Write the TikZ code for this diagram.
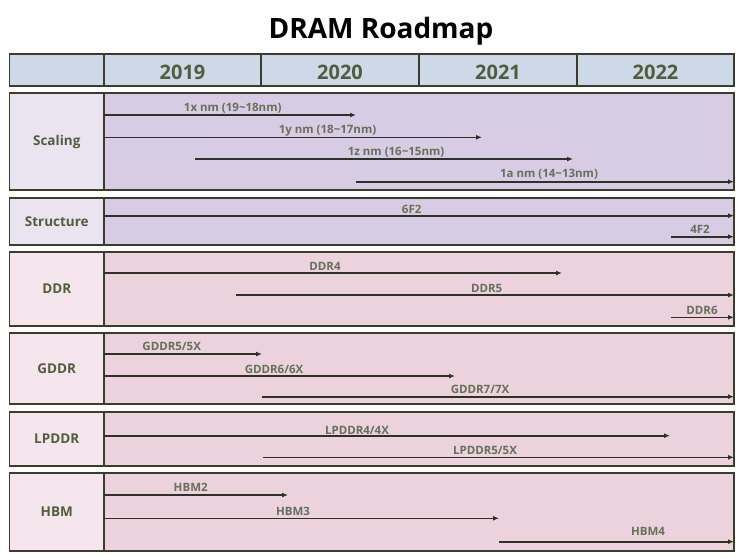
\documentclass[tikz,border=0pt]{standalone}
\usepackage{fontspec}
\setmainfont{Open Sans}
\usetikzlibrary{arrows.meta}
\definecolor{bordc}{HTML}{3A3D2E}
\definecolor{hdrfill}{HTML}{CDD9E6}
\definecolor{lavlab}{HTML}{EAE4F1}
\definecolor{lavbody}{HTML}{D8CCE4}
\definecolor{pinklab}{HTML}{F4E6EC}
\definecolor{pinkbody}{HTML}{ECD2DC}
\definecolor{txtc}{HTML}{515D3E}
\definecolor{lblc}{HTML}{66705A}
\definecolor{arrc}{HTML}{2E3226}
\newcommand{\roadarrow}[7]{%
  \coordinate (#1s) at (#2,#4);
  \coordinate (#1e) at (#3,#4);
  \draw[roadarr] (#1s) -- (#1e);
  \node[arrlbl] (#1l) at (#5,#6) {#7};}
\newcommand{\roadrow}[6]{%
  \fill[#5] (9.5,#2) rectangle (104,#3);
  \fill[#6] (104,#2) rectangle (734,#3);
  \draw[cellline] (9.5,#2) rectangle (734,#3);
  \draw[cellline] (104,#2) -- (104,#3);
  \node[rowlbl] (#1) at (56.75,{(#2+#3)/2}) {#4};}
\begin{document}
\begin{tikzpicture}[x=1pt,y=-1pt,
  cellline/.style={draw=bordc,line width=1.8pt},
  roadarr/.style={draw=arrc,line width=1.6pt,-{Latex[length=6pt,width=5pt]}},
  arrlbl/.style={text=lblc,font=\bfseries\fontsize{11.5}{13}\selectfont,inner sep=0pt},
  rowlbl/.style={text=txtc,font=\bfseries\fontsize{13.5}{16}\selectfont,inner sep=0pt},
  yearlbl/.style={text=txtc,font=\bfseries\fontsize{20}{24}\selectfont,inner sep=0pt,anchor=base},
]
\useasboundingbox (0,0) rectangle (743,557);
\fill[white] (0,0) rectangle (743,557);
% title
\node[font=\bfseries\fontsize{28}{32}\selectfont,anchor=base,inner sep=0pt] (title) at (381,38.3) {DRAM Roadmap};
% header
\fill[hdrfill] (9.5,54) rectangle (734,85.7);
\draw[cellline] (9.5,54) rectangle (734,85.7);
\foreach \x in {104,261,419,577} \draw[cellline] (\x,54) -- (\x,85.7);
\node[yearlbl] (y19) at (182.5,79) {2019};
\node[yearlbl] (y20) at (340,79) {2020};
\node[yearlbl] (y21) at (498,79) {2021};
\node[yearlbl] (y22) at (655.5,79) {2022};
% rows
\roadrow{scal}{93.3}{190}{Scaling}{lavlab}{lavbody}
\roadrow{stru}{197.7}{245}{Structure}{lavlab}{lavbody}
\roadrow{ddr}{252.3}{326}{DDR}{pinklab}{pinkbody}
\roadrow{gddr}{333.3}{404}{GDDR}{pinklab}{pinkbody}
\roadrow{lpddr}{411.7}{465.7}{LPDDR}{pinklab}{pinkbody}
\roadrow{hbm}{472.7}{550.7}{HBM}{pinklab}{pinkbody}
% scaling
\roadarrow{a1x}{104}{356}{115}{232.7}{108.5}{1x nm (19\textasciitilde18nm)}
\roadarrow{a1y}{104}{482}{137.3}{327.5}{130.5}{1y nm (18\textasciitilde17nm)}
\roadarrow{a1z}{195}{573}{159}{396}{152.3}{1z nm (16\textasciitilde15nm)}
\roadarrow{a1a}{356}{734}{181.7}{549}{174.5}{1a nm (14\textasciitilde13nm)}
% structure
\roadarrow{s6}{104}{734}{215.7}{411.7}{209}{6F2}
\roadarrow{s4}{671}{734}{236.7}{700}{229}{4F2}
% DDR
\roadarrow{d4}{104}{562}{273}{325}{266.5}{DDR4}
\roadarrow{d5}{235.7}{734}{295}{486.7}{288}{DDR5}
\roadarrow{d6}{671}{734}{317.3}{702}{310.5}{DDR6}
% GDDR
\roadarrow{g5}{104}{262}{354}{171.7}{346.7}{GDDR5/5X}
\roadarrow{g6}{104}{455}{376}{274}{369.3}{GDDR6/6X}
\roadarrow{g7}{261.7}{734}{396.7}{480}{389}{GDDR7/7X}
% LPDDR
\roadarrow{l4}{104}{670}{435.7}{357}{430}{LPDDR4/4X}
\roadarrow{l5}{263}{734}{457.3}{485}{450}{LPDDR5/5X}
% HBM
\roadarrow{h2}{104}{288}{495}{190.7}{487.7}{HBM2}
\roadarrow{h3}{104}{499}{518.3}{293}{511.7}{HBM3}
\roadarrow{h4}{499.3}{734}{541.7}{648}{531.7}{HBM4}
\end{tikzpicture}
\end{document}
